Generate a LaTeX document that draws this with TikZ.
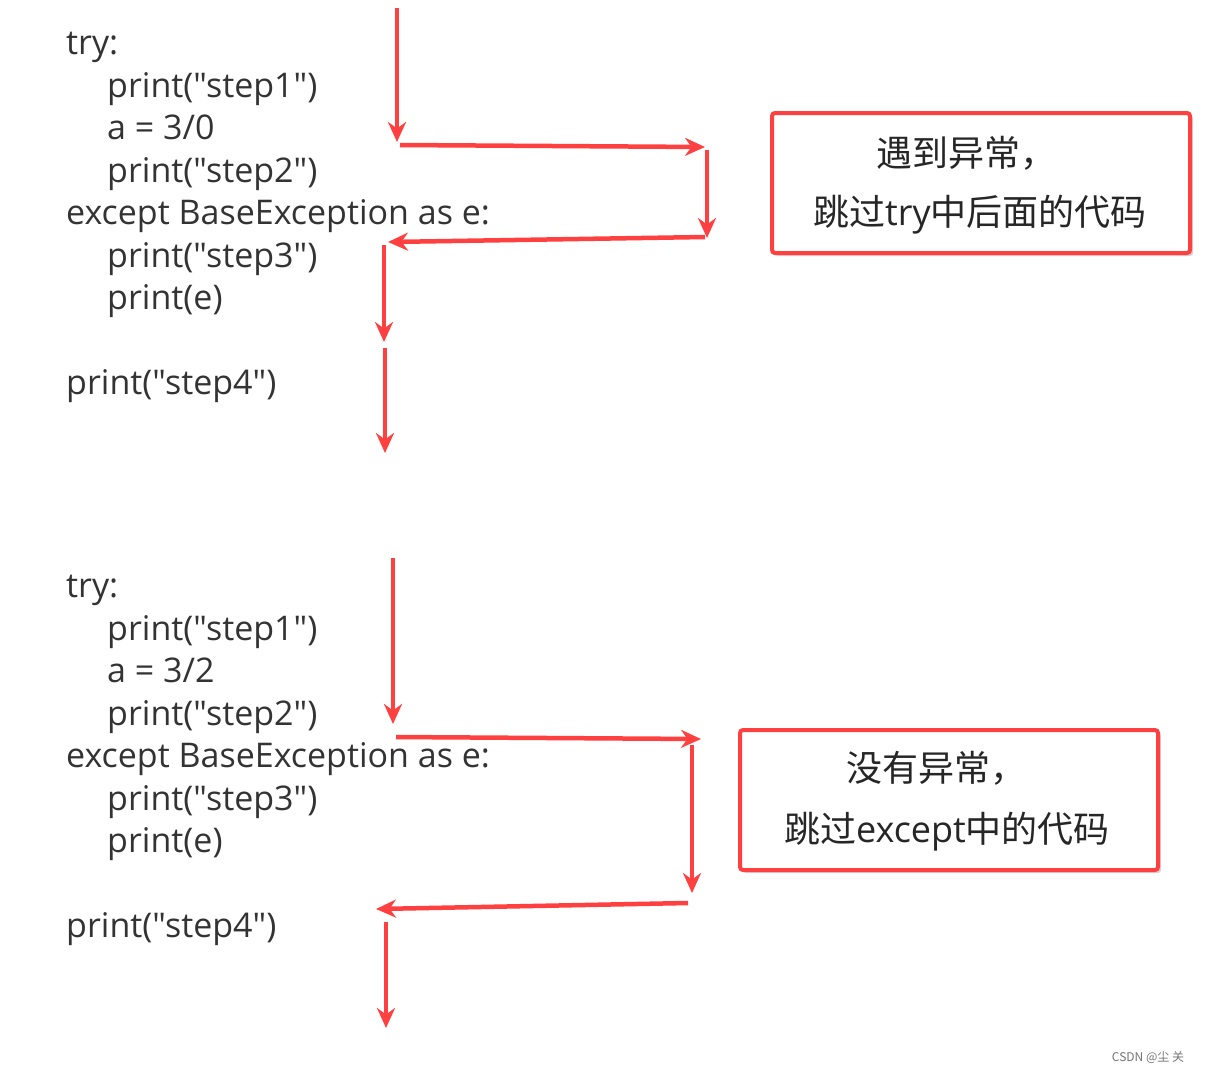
\documentclass[tikz,border=0pt]{standalone}
\usepackage{fontspec}
\setmainfont{Noto Sans CJK SC}
\newfontfamily\codefont{Open Sans}
\usetikzlibrary{shadows,arrows.meta}
\tikzset{
 x=1pt,y=-1pt,
 code/.style={anchor=base west,inner sep=0pt,font=\codefont\fontsize{34}{38}\selectfont,text=black!80},
 arr/.style={draw=red!75!white,line width=4.5pt,-{Stealth[length=20pt,width=18pt]},drop shadow={shadow xshift=1pt,shadow yshift=-2pt,opacity=.3}},
 note/.style={draw=red!75!white,line width=4pt,rounded corners=3pt,fill=white,drop shadow={shadow xshift=3pt,shadow yshift=-3pt,opacity=.35},minimum width=418pt,minimum height=140pt},
 ntxt/.style={font=\fontsize{36}{40}\selectfont,text=black!85}
}
\begin{document}
\begin{tikzpicture}
\useasboundingbox (0,0) rectangle (1206,1074);
\foreach \yo/\den in {0/0,543/2}{
 \begin{scope}[yshift=-\yo pt]
 \node[code] at (66,54) {try:};
 \node[code] at (107,97) {print("step1")};
 \node[code] at (107,139) {a = 3/\den};
 \node[code] at (107,182) {print("step2")};
 \node[code] at (66,224) {except BaseException as e:};
 \node[code] at (107,267) {print("step3")};
 \node[code] at (107,309) {print(e)};
 \node[code] at (66,394) {print("step4")};
 \end{scope}}
% top
\coordinate (a1) at (397,8); \coordinate (a2) at (397,142);
\coordinate (b1) at (400,145); \coordinate (b2) at (705,147);
\coordinate (c1) at (707,150); \coordinate (c2) at (707,238);
\coordinate (d1) at (705,237); \coordinate (d2) at (388,242);
\coordinate (e1) at (384,245); \coordinate (e2) at (384,342);
\coordinate (f1) at (385,348); \coordinate (f2) at (385,453);
\foreach \p in {a,b,c,d,e,f}{\draw[arr] (\p1) -- (\p2);}
\node[note] (n1) at (981,183) {};
\node[ntxt] (t1) at (966,153) {遇到异常，};
\node[ntxt] (t2) at (980,215) {跳过{\codefont try}中后面的代码};
% bottom
\coordinate (g1) at (393,558); \coordinate (g2) at (393,724);
\coordinate (h1) at (396,737); \coordinate (h2) at (701,739);
\coordinate (i1) at (692,745); \coordinate (i2) at (692,893);
\coordinate (j1) at (688,903); \coordinate (j2) at (376,909);
\coordinate (k1) at (386,922); \coordinate (k2) at (386,1028);
\foreach \p in {g,h,i,j,k}{\draw[arr] (\p1) -- (\p2);}
\node[note] (n2) at (949,800) {};
\node[ntxt] (t3) at (936,768) {没有异常，};
\node[ntxt] (t4) at (947,832) {跳过{\codefont except}中的代码};
\node[font=\fontsize{12}{14}\selectfont,text=black!55] (wm) at (1148,1058) {CSDN @尘\ 关};
\end{tikzpicture}
\end{document}
